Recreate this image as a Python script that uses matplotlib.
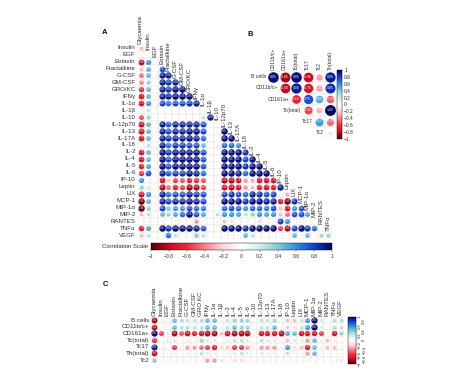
import matplotlib
matplotlib.use("Agg")
import matplotlib.pyplot as plt
from matplotlib.colors import LinearSegmentedColormap, Normalize
from matplotlib.cm import ScalarMappable
from matplotlib.patches import Rectangle

plt.rcParams['font.family'] = ['Liberation Sans', 'DejaVu Sans']

a_cols = ["Glycaemia","Insulin","EGF","Eotaxin","Fractalkine","G-CSF","GM-CSF","GRO/KC","IFNγ","IL-1α","IL-1β","IL-10",
          "IL-12p70","IL-13","IL-17A","IL-18","IL-2","IL-4","IL-5","IL-6","IP-10","Leptin","LIX","MCP-1","MIP-1α","MIP-2","RANTES","TNFα"]
a_rows = a_cols[1:] + ["VEGF"]
a_vals = [
 [-.3],
 [0,0],
 [-.8,.6,0],
 [-.3,.5,0,.75],
 [-.5,.5,0,.9,.9],
 [-.45,.4,0,.9,.85,.9],
 [-.65,.5,0,.9,.85,.95,.95],
 [-.75,.5,0,.9,.9,.95,.95,.95],
 [-.75,.6,0,.8,.7,.8,.8,.85,.9],
 [.1,.25,0,0,0,0,0,0,0,.1],
 [-.55,.4,0,0,0,.05,0,.05,0,.3,.9],
 [-.8,.5,0,.9,.75,.9,.9,.9,.9,.8,0,0],
 [-.8,.5,0,.9,.8,.9,.9,.95,.95,.8,0,0,.95],
 [-.75,.5,0,.9,.85,.9,.9,.95,.9,.7,0,0,.95,.95],
 [0,.3,0,.9,.7,.85,.85,.8,.8,.5,0,.1,.7,.7,.6],
 [-.75,.5,0,.95,.85,.95,.95,.95,.95,.8,0,0,.95,.95,.95,.85],
 [-.75,.5,0,.95,.8,.95,.95,.95,.95,.75,0,0,.95,.95,.95,.8,.95],
 [-.7,.55,0,.95,.8,.95,.95,.95,.95,.75,0,0,.95,.95,.95,.85,.95,.95],
 [-.65,.75,0,.9,.75,.85,.85,.95,.9,.7,0,0,.95,.95,.9,.7,.95,.95,.95],
 [.6,-.1,0,-.75,-.25,-.6,-.55,-.7,-.65,-.55,0,0,-.85,-.85,-.75,-.4,-.35,-.75,-.75,-.75],
 [.4,-.2,0,-.85,-.5,-.7,-.6,-.9,-.85,-.6,0,0,-.8,-.85,-.75,-.4,-.3,-.7,-.75,-.7,.9],
 [-.8,.6,0,.9,.7,.8,.8,.9,.85,.8,0,0,.8,.85,.75,.7,.9,.85,.75,.8,-.05,-.35],
 [-.95,.5,0,.9,.8,.9,.9,.95,.9,.8,0,0,.95,.95,.95,.85,.95,.95,.9,.9,-.7,-.95,.85],
 [-.95,.4,0,.8,.45,.6,.6,.75,.7,.65,0,0,.7,.75,.7,.6,.7,.7,.65,.75,-.3,-.75,.6,.75],
 [-.3,.25,0,.5,.4,.55,.7,.95,.75,.55,0,.3,.6,.6,.55,.3,.4,.6,.55,.6,-.3,-.5,.75,.75,.55],
 [0,.1,0,-.1,0,-.1,0,0,-.4,-.1,0,.15,-.3,-.2,0,0,0,-.2,0,0,.8,.6,0,-.1,-.1,0],
 [-.7,.55,0,.95,.85,.95,.95,.95,.9,.75,0,0,.95,.95,.95,.85,.95,.95,.95,.95,-.6,-.85,.8,.95,.85,.7,0],
 [-.3,.3,0,.1,.7,.3,0,0,.45,.3,0,0,.1,.1,.1,.5,.3,0,0,0,.1,0,.5,.1,.5,0,.4,.4],
]

b_cols = ["CD11b/c+","CD161a+","Tc(total)","Tc17","Tc2","Th(total)"]
b_rows = ["B cells","CD11b/c+","CD161a+","Tc(total)","Tc17","Tc2"]
b_vals = [
 [.95,-.85,.95,-.8,-.35,.9],
 [-.8,.9,-.75,-.35,.85],
 [-.65,.75,.5,-.5],
 [-.55,-.3,1],
 [.55,-.45],
 [-.15],
]

c_cols = ["Glycaemia","Insulin","EGF","Eotaxin","Fractalkine","G-CSF","GM-CSF","GRO KC","IFNγ","IL-1α","IL-1β",
          "IL-2","IL-4","IL-5","IL-6","IL-10","IL-12p70","IL-13","IL-17A","IL-18","IP-10","Leptin","LIX","MCP-1",
          "MIP-1α","MIP-2","RANTES","TNFα","VEGF"]
c_rows = ["B cells","CD11b/c+","CD161a+","Tc(total)","Tc17","Th(total)","Tc2"]
c_vals = [
 [-.85,.1,.1,.5,.35,.3,.3,.35,.5,.5,.1,.3,.4,.4,.4,0,.3,.3,.4,.1,-.3,-.3,.3,.6,.95,.2,0,.35,.35],
 [-.8,.1,.1,.5,.3,.35,.3,.3,.5,.5,.1,.3,.5,.4,.4,0,.3,.3,.5,.1,-.25,-.2,.3,.6,.95,.2,0,.35,.3],
 [.95,-.6,.2,-.85,-.55,-.8,-.7,-.75,-.85,-.85,-.3,-.8,-.85,-.85,-.85,0,-.75,-.75,-.75,-.85,.55,.5,-.75,-.75,-.75,-.6,-.1,-.75,.4],
 [-.65,.05,.2,.2,.1,.15,.1,.4,.2,.2,0,.15,.3,.3,.2,0,.3,.2,.2,0,-.3,.2,.15,-.4,.5,.15,-.3,.15,.1],
 [.9,-.1,.1,-.6,-.1,-.4,-.4,-.5,-.6,-.7,-.2,-.3,-.6,-.6,-.4,0,-.4,-.4,-.4,-.1,.6,.2,-.3,-.7,.5,.1,-.3,-.3,.1],
 [-.8,.1,.1,.15,.1,.15,.1,.3,.2,.15,0,.15,.2,.3,.2,0,.2,.15,.15,0,-.25,.1,.1,-.4,.5,.1,-.1,.1,.1],
 [.45,0,.1,-.1,-.1,-.1,-.1,-.1,-.4,-.4,.2,-.1,-.2,-.2,-.1,0,-.1,-.1,-.1,-.1,.1,-.1,-.1,-.1,-.1,0,0,-.1,-.2],
]

scale_ticks = [-1,-.8,-.6,-.4,-.2,0,.2,.4,.6,.8,1]

cmap = LinearSegmentedColormap.from_list("corr", [
    (0.0,"#4a0008"),(0.1,"#cc0a1e"),(0.2,"#ee2a40"),(0.3,"#fa8090"),(0.4,"#fdd8d8"),(0.5,"#ffffff"),
    (0.6,"#cdefe9"),(0.7,"#7fd0d4"),(0.8,"#2f8fe0"),(0.9,"#1040d0"),(1.0,"#000060")])
norm = Normalize(-1, 1)

W, H = 474, 376
fig = plt.figure(figsize=(W/100, H/100), dpi=100, facecolor="white")
TXT = "#303030"

def axes_px(left, top, width, height):
    ax = fig.add_axes([left/W, 1-(top+height)/H, width/W, height/H])
    return ax

def grid_ax(left, top, cw, ch, ncols, nrows):
    ax = axes_px(left, top, cw*ncols, ch*nrows)
    ax.set_xlim(-.5, ncols-.5)
    ax.set_ylim(nrows-.5, -.5)
    ax.axis("off")
    return ax

def cell(ax, ax_cell_px, i, j, v, fs):
    ax.add_patch(Rectangle((j-.5, i-.5), 1, 1, fc="white", ec="#ecdcd2", lw=.3, zorder=1))
    if abs(v) < .01:
        return
    d_pt = ax_cell_px * .96 * abs(v)**.5 * .72
    ax.scatter([j], [i], s=d_pt**2, c=[v], cmap=cmap, norm=norm, lw=0, zorder=2)
    if abs(v) >= .3:
        ax.text(j, i, f"{v:.2f}", color="white", fontsize=fs, ha="center", va="center", zorder=3)

# Panel A
cw = 6.95
axA = grid_ax(137.2, 44.2, cw, cw, 28, 28)
for i, row in enumerate(a_vals):
    for j, v in enumerate(row):
        cell(axA, cw, i, j, v, 2)
    axA.text(-.75, i, a_rows[i], ha="right", va="center", fontsize=4.4, color=TXT, clip_on=False)
for k, name in enumerate(a_cols):
    axA.text(k, k-.6, name, rotation=90, ha="center", va="bottom", fontsize=4.4, color=TXT, clip_on=False)

# Panel B
bw, bh = 11.4, 11.2
axB = grid_ax(267.6, 71.1, bw, bh, 6, 6)
for i, row in enumerate(b_vals):
    for n, v in enumerate(row):
        cell(axB, 11.3, i, i+n, v, 2.4)
    axB.text(i-.58, i, b_rows[i], ha="right", va="center", fontsize=3.7, color=TXT, clip_on=False)
for k, name in enumerate(b_cols):
    axB.text(k, -.6, name, rotation=90, ha="center", va="bottom", fontsize=3.7, color=TXT, clip_on=False)

# Panel C
cc = 6.67
axC = grid_ax(150.67, 316.67, cc, cc, 29, 7)
for i, row in enumerate(c_vals):
    for j, v in enumerate(row):
        cell(axC, cc, i, j, v, 1.9)
    axC.text(-.7, i, c_rows[i], ha="right", va="center", fontsize=4.5, color=TXT, clip_on=False)
for k, name in enumerate(c_cols):
    axC.text(k, -.55, name, rotation=90, ha="center", va="bottom", fontsize=4.5, color=TXT, clip_on=False)

def fmt(t):
    s = f"{t:g}"
    return s.replace("-", "\u2212")

sm = ScalarMappable(norm=norm, cmap=cmap)

# Colour bar A
caxA = axes_px(150.7, 243.3, 181.6, 6.4)
cbA = fig.colorbar(sm, cax=caxA, orientation="horizontal", ticks=scale_ticks)
cbA.ax.set_xticklabels([fmt(t) for t in scale_ticks], fontsize=3.6, color=TXT)
cbA.ax.tick_params(length=1.5, width=.3, pad=1.5, color="#444")
cbA.outline.set_linewidth(.3)
fig.text(148/W, 1-246.5/H, "Correlation Scale", ha="right", va="center", fontsize=4.3, color=TXT)

# Colour bar B
caxB = axes_px(337.3, 70, 4.4, 69)
cbB = fig.colorbar(sm, cax=caxB, ticks=scale_ticks)
cbB.ax.set_yticklabels([fmt(t) for t in scale_ticks], fontsize=3.5, color=TXT)
cbB.ax.tick_params(length=1, width=.3, pad=.8, color="#444")
cbB.outline.set_linewidth(.3)

# Colour bar C
caxC = axes_px(348, 316.7, 7.7, 47.3)
cbC = fig.colorbar(sm, cax=caxC, ticks=scale_ticks)
cbC.ax.set_yticklabels([fmt(t) for t in scale_ticks], fontsize=3, color=TXT, rotation=90, va="center")
cbC.ax.tick_params(length=1, width=.3, color="#444")
for n, tick in enumerate(cbC.ax.yaxis.get_major_ticks()):
    tick.set_pad(.6 if n % 2 == 0 else 3.8)
cbC.outline.set_linewidth(.3)

# Panel letters
for label, x, y in [("A",105,33),("B",250,34),("C",105,284)]:
    fig.text(x/W, 1-y/H, label, fontsize=5.5, fontweight="bold", ha="center", va="center", color="#111")

fig.savefig("out.png", dpi=100, facecolor="white")
